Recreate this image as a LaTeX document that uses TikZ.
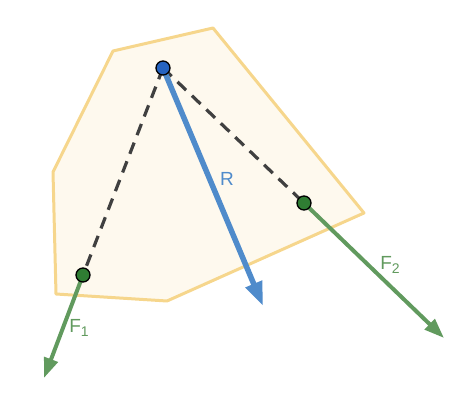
\documentclass[tikz,border=0pt]{standalone}
\usepackage{fontspec}
\setmainfont{Liberation Sans}
\usetikzlibrary{arrows.meta}

\definecolor{plateline}{HTML}{F6D68C}
\definecolor{platefill}{HTML}{FEF9EE}
\definecolor{rblue}{HTML}{4F8BCB}
\definecolor{rdot}{HTML}{2563C0}
\definecolor{fgreen}{HTML}{619A5E}
\definecolor{fdot}{HTML}{2F7D33}

\newcommand{\idx}[1]{\raisebox{-0.45ex}{\fontsize{14}{16}\selectfont #1}}

\begin{document}
\begin{tikzpicture}[x=1pt,y=-1pt,semithick]
  \tikzstyle{plate}=[draw=plateline, fill=platefill, line width=3pt, line join=round]
  \tikzstyle{arm}=[draw=black!75, line width=3.2pt, dash pattern=on 12pt off 8pt]
  \tikzstyle{resultant}=[draw=rblue, line width=5.5pt, -{Triangle[length=24pt,width=17pt]}]
  \tikzstyle{force}=[draw=fgreen, line width=4pt, -{Triangle[length=20pt,width=14pt]}]
  \tikzstyle{pt}=[draw=black, circle, line width=1.3pt, inner sep=0pt, minimum size=14pt]
  \tikzstyle{lbl}=[font=\fontsize{19}{22}\selectfont]

  \useasboundingbox (0,0) rectangle (474,401);

  % body
  \draw[plate] (53,172) -- (113,51) -- (213,28) -- (364,213) -- (167,301) -- (56,294) -- cycle;

  % points
  \coordinate (P) at (163,68);
  \coordinate (A1) at (83,275);
  \coordinate (A2) at (304,203);
  \coordinate (R) at (263,306);
  \coordinate (F1) at (44,378);
  \coordinate (F2) at (444,338);

  \draw[arm] (P) -- (A1);
  \draw[arm] (P) -- (A2);

  \draw[force] (A1) -- (F1);
  \draw[force] (A2) -- (F2);
  \draw[resultant] (P) -- (R);

  \node[pt, fill=rdot]  (p)  at (P)  {};
  \node[pt, fill=fdot]  (a1) at (A1) {};
  \node[pt, fill=fdot]  (a2) at (A2) {};

  \node[lbl, text=rblue]  (lr)  at (227,179) {R};
  \node[lbl, text=fgreen] (lf1) at (79,328) {F\idx{1}};
  \node[lbl, text=fgreen] (lf2) at (390,265) {F\idx{2}};
\end{tikzpicture}
\end{document}
